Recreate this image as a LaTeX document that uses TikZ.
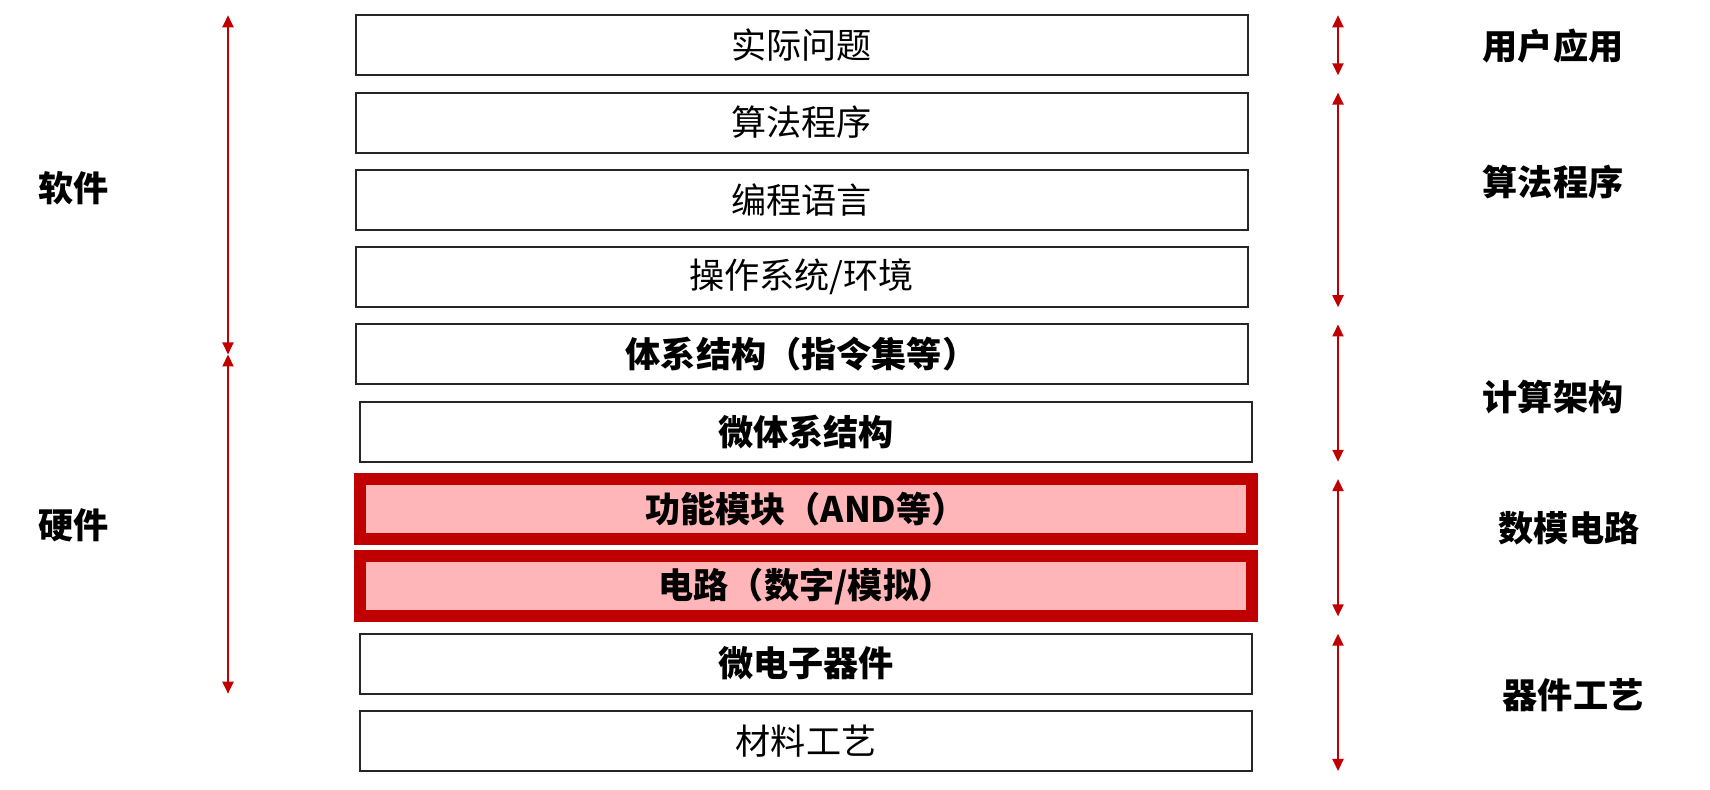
\documentclass[tikz,border=0pt]{standalone}
\usepackage{fontspec}
\setmainfont{Noto Sans CJK SC}
\usetikzlibrary{positioning,arrows.meta}
\definecolor{darkred}{RGB}{192,0,0}
\definecolor{lightred}{RGB}{255,182,185}
\begin{document}
\begin{tikzpicture}[
    layer/.style={draw=black!85, line width=0.04cm, minimum width=17.84cm, minimum height=1.2cm,
        inner sep=0pt, outer sep=0pt, font=\fontsize{20}{24}\selectfont},
    boldlayer/.style={layer, font=\fontsize{20}{24}\selectfont\bfseries},
    redlayer/.style={boldlayer, draw=darkred, fill=lightred, line width=0.24cm},
    span/.style={darkred, line width=0.04cm,
        {Triangle[length=0.24cm,width=0.22cm]}-{Triangle[length=0.24cm,width=0.22cm]}},
    tag/.style={font=\fontsize{20}{24}\selectfont\bfseries}
]
\useasboundingbox (0,0) rectangle (34.2,15.8);

\node[layer] (b1) at (16.03,14.894) {实际问题};
\node[layer, below=0.346cm of b1] (b2) {算法程序};
\node[layer, below=0.346cm of b2] (b3) {编程语言};
\node[layer, below=0.346cm of b3] (b4) {操作系统/环境};
\node[boldlayer, below=0.346cm of b4] (b5) {体系结构（指令集等）};
\node[boldlayer, below=0.346cm of b5, xshift=0.09cm] (b6) {微体系结构};
\node[redlayer, below=0.346cm of b6] (b7) {功能模块（AND等）};
\node[redlayer, below=0.346cm of b7] (b8) {电路（数字/模拟）};
\node[boldlayer, below=0.346cm of b8] (b9) {微电子器件};
\node[layer, below=0.346cm of b9] (b10) {材料工艺};

\coordinate (lx) at (4.56,0);
\coordinate (rx) at (26.76,0);
\draw[span] (lx |- b1.north) -- (lx |- b5);
\draw[span] (lx |- b5) -- (lx |- b9.south);
\draw[span] (rx |- b1.north) -- (rx |- b1.south);
\draw[span] (rx |- b2.north) -- (rx |- b4.south);
\draw[span] (rx |- b5.north) -- (rx |- b6.south);
\draw[span] (rx |- b7.north) -- (rx |- b8.south);
\draw[span] (rx |- b9.north) -- (rx |- b10.south);

\node[tag] (soft) at (1.47,12.04) {软件};
\node[tag] (hard) at (1.47,5.30) {硬件};
\node[tag] (user) at (31.06,14.87) {用户应用};
\node[tag] (algo) at (31.06,12.15) {算法程序};
\node[tag] (arch) at (31.06,7.86) {计算架构};
\node[tag] (circ) at (31.38,5.24) {数模电路};
\node[tag] (proc) at (31.46,1.90) {器件工艺};
\end{tikzpicture}
\end{document}
